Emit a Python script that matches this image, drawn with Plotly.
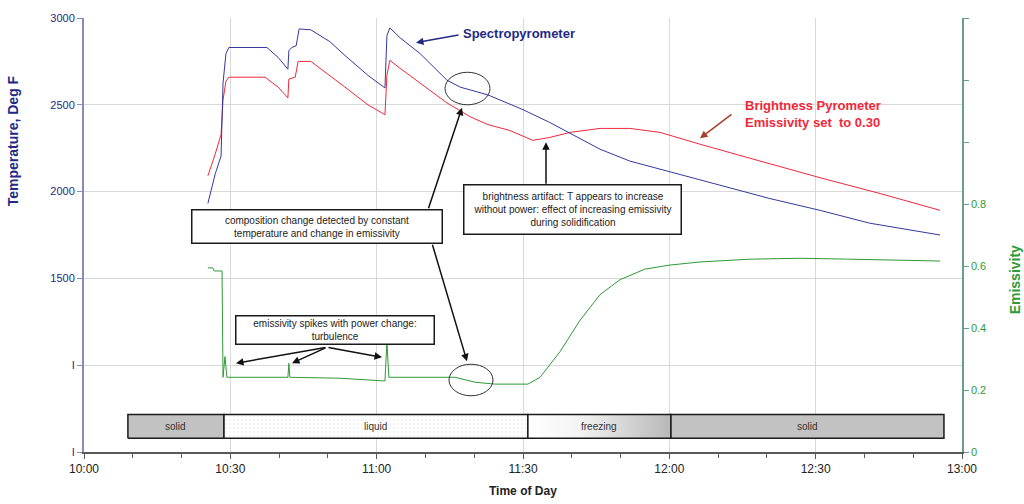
import pandas as pd
import plotly.graph_objects as go

DAY = "2000-01-01 "

# ---------------- data ----------------
spec_time = ["10:25:24", "10:26:54", "10:28:06", "10:28:30", "10:29:06", "10:29:42", "10:37:30",
             "10:39:48", "10:41:48", "10:42:00", "10:42:36", "10:43:30", "10:44:06", "10:46:30",
             "10:50:24", "10:53:30", "10:58:12", "11:01:42", "11:02:06", "11:02:42", "11:04:48",
             "11:08:54", "11:14:24", "11:17:06", "11:22:48", "11:30:00", "11:35:30", "11:39:36",
             "11:45:48", "11:51:54", "12:00:06", "12:10:24", "12:20:36", "12:30:54", "12:41:06",
             "12:55:30"]
spec_temp = [1932, 2102, 2205, 2625, 2795, 2830, 2830,
             2773, 2705, 2812, 2830, 2840, 2937, 2932,
             2864, 2784, 2670, 2597, 2898, 2943, 2886,
             2795, 2642, 2602, 2557, 2472, 2398, 2335,
             2244, 2176, 2114, 2034, 1960, 1892, 1818,
             1750]

bright_time = ["10:25:24", "10:26:54", "10:28:06", "10:28:30", "10:29:06", "10:29:42", "10:37:06",
               "10:39:48", "10:41:48", "10:42:00", "10:43:18", "10:43:54", "10:46:30", "10:50:24",
               "10:53:30", "10:58:12", "11:01:42", "11:02:06", "11:02:42", "11:04:48", "11:08:54",
               "11:14:24", "11:19:06", "11:22:48", "11:27:18", "11:32:00", "11:35:30", "11:39:36",
               "11:45:48", "11:51:54", "11:58:06", "12:06:18", "12:18:36", "12:30:54", "12:43:12",
               "12:55:30"]
bright_temp = [2091, 2216, 2330, 2528, 2636, 2659, 2659,
               2602, 2540, 2648, 2659, 2750, 2750, 2670,
               2602, 2500, 2443, 2670, 2756, 2710, 2625,
               2511, 2432, 2386, 2352, 2295, 2312, 2341,
               2364, 2364, 2341, 2273, 2176, 2080, 1989,
               1892]

emis_time = ["10:25:24", "10:26:24", "10:26:42", "10:28:18", "10:28:30", "10:28:54", "10:29:18",
             "10:41:48", "10:42:00", "10:42:12", "10:52:30", "11:01:42", "11:02:06", "11:02:30",
             "11:16:06", "11:20:12", "11:24:18", "11:31:00", "11:33:30", "11:37:36", "11:41:42",
             "11:45:48", "11:49:54", "11:55:00", "12:00:06", "12:06:18", "12:16:30", "12:26:48",
             "12:37:00", "12:47:18", "12:55:30"]
emis_value = [0.594, 0.594, 0.584, 0.584, 0.241, 0.308, 0.241,
              0.241, 0.286, 0.241, 0.238, 0.229, 0.356, 0.241,
              0.241, 0.225, 0.219, 0.219, 0.241, 0.324, 0.425,
              0.508, 0.556, 0.590, 0.603, 0.613, 0.622, 0.625,
              0.622, 0.619, 0.616]

phase_names = ["solid", "liquid", "freezing", "solid"]
phase_start = ["10:09:00", "10:28:42", "11:31:00", "12:00:20"]
phase_end = ["10:28:42", "11:31:00", "12:00:20", "12:56:18"]

temp_ticks = [500, 1000, 1500, 2000, 2500, 3000]
temp_tick_labels = ["I", "I", "1500", "2000", "2500", "3000"]
emis_ticks = [0, 0.2, 0.4, 0.6, 0.8, 1.0, 1.2, 1.4]
emis_tick_labels = ["0", "0.2", "0.4", "0.6", "0.8", "", "", ""]

# ---------------- geometry helpers ----------------
W, H = 1024, 504
L, R, T, B = 84, 962, 12, 452


def px(x):
    return (x - L) / (R - L)


def py(y):
    return (B - y) / (B - T)


def ts(s):
    return pd.to_datetime([DAY + v for v in s]) if isinstance(s, list) else pd.to_datetime(DAY + s)


FONT = "Liberation Sans, Arial, sans-serif"
NAVY = "#222a84"
GREEN = "#2f9a36"
RED = "#f0283a"

fig = go.Figure()
ann = []

# phase bar (drawn on emissivity axis)
bar_lo, bar_hi = 0.044, 0.121
for name, s, e in zip(phase_names, phase_start, phase_end):
    x0, x1 = ts(s), ts(e)
    kw = dict(x=[x0, x1, x1, x0, x0], y=[bar_lo, bar_lo, bar_hi, bar_hi, bar_lo],
              mode="lines", fill="toself", line=dict(color="#1a1a1a", width=1.5),
              yaxis="y2", hoverinfo="skip", showlegend=False)
    if name == "liquid":
        kw["fillcolor"] = "white"
        kw["fillpattern"] = dict(shape=".", fgcolor="#d4d4d4", bgcolor="white", size=4, solidity=0.15)
    elif name == "freezing":
        kw["fillgradient"] = dict(type="horizontal",
                                  colorscale=[[0, "#ffffff"], [0.35, "#f4f4f4"], [1, "#b8b8b8"]])
    else:
        kw["fillcolor"] = "#c2c2c2"
    fig.add_trace(go.Scatter(**kw))
    ann.append(dict(x=x0 + (x1 - x0) / 2, y=(bar_lo + bar_hi) / 2, xref="x", yref="y2",
                    xanchor="center", yanchor="middle",
                    text=name, showarrow=False, font=dict(family=FONT, size=10, color="#333")))

fig.add_trace(go.Scatter(x=ts(emis_time), y=emis_value, mode="lines", yaxis="y2",
                         line=dict(color=GREEN, width=1), showlegend=False))
fig.add_trace(go.Scatter(x=ts(bright_time), y=bright_temp, mode="lines",
                         line=dict(color=RED, width=1), showlegend=False))
fig.add_trace(go.Scatter(x=ts(spec_time), y=spec_temp, mode="lines",
                         line=dict(color="#34399a", width=1), showlegend=False))


# ---------------- annotations ----------------
def text_at(x, y, text, size, color, bold=False, **kw):
    t = f"<b>{text}</b>" if bold else text
    ann.append(dict(x=px(x), y=py(y), xref="paper", yref="paper", text=t, showarrow=False,
                    xanchor="center", yanchor="middle",
                    font=dict(family=FONT, size=size, color=color), **kw))


def arrow(hx, hy, tx, ty, color="#111", width=1.5):
    ann.append(dict(x=px(hx), y=py(hy), xref="paper", yref="paper", text="", showarrow=True,
                    ax=tx - hx, ay=ty - hy, arrowhead=2, arrowsize=1, arrowwidth=width,
                    arrowcolor=color))


def box(x0, y0, x1, y1, text):
    bw, bp = 1.5, 2
    ann.append(dict(x=px((x0 + x1) / 2), y=py((y0 + y1) / 2), xref="paper", yref="paper",
                    xanchor="center", yanchor="middle",
                    text=text, showarrow=False, align="center", valign="middle",
                    width=x1 - x0 - 2 * (bw + bp), height=y1 - y0 - 2 * (bw + bp),
                    bgcolor="white", bordercolor="#1a1a1a", borderwidth=bw, borderpad=bp,
                    font=dict(family=FONT, size=10, color="#222")))


# axis titles
text_at(13, 137, "Temperature, Deg F", 14, NAVY, bold=True, textangle=-90)
text_at(1015, 278, "Emissivity", 14, GREEN, bold=True, textangle=-90)
text_at(523, 492, "Time of Day", 12, "#222", bold=True)

# series labels
text_at(519, 28, "Spectropyrometer", 13, NAVY, bold=True)
arrow(416, 37, 460, 29, color=NAVY)
text_at(813, 109, "Brightness Pyrometer<br>Emissivity set  to 0.30", 13, RED, bold=True, align="left")
arrow(700, 134, 733, 109, color="#a5402a")

# boxes with arrows
box(191, 206, 443, 241, "composition change detected by constant<br>temperature and change in emissivity")
arrow(462, 103, 428, 205)
arrow(467, 360, 432, 242)
box(463, 181, 682, 232,
    "brightness artifact: T appears to increase<br>without power: effect of increasing emissivity<br>during solidification")
arrow(546, 138, 546, 181)
box(235, 313, 435, 343, "emissivity spikes with power change:<br>turbulence")
arrow(236, 362, 327, 346)
arrow(292, 362, 327, 346)
arrow(382, 356, 327, 346)

shapes = [
    dict(type="circle", xref="paper", yref="paper", x0=px(445), x1=px(490), y0=py(67), y1=py(100),
         line=dict(color="#333", width=1)),
    dict(type="circle", xref="paper", yref="paper", x0=px(449), x1=px(493), y0=py(363), y1=py(395),
         line=dict(color="#333", width=1)),
]

fig.update_layout(
    width=W, height=H,
    margin=dict(l=L, r=W - R, t=T, b=H - B, pad=0),
    paper_bgcolor="white", plot_bgcolor="white",
    showlegend=False,
    shapes=shapes,
    xaxis=dict(
        type="date", range=[ts("10:00:00"), ts("13:00:00")],
        tickformat="%H:%M", dtick=30 * 60 * 1000, tick0=ts("10:00:00"),
        showgrid=True, gridcolor="#d9d9d9", gridwidth=1,
        showline=True, linecolor="#5a5a5a", linewidth=2,
        ticks="outside", ticklen=5, tickcolor="#5a5a5a",
        minor=dict(dtick=10 * 60 * 1000, ticks="outside", ticklen=4, tickcolor="#5a5a5a", showgrid=False),
        tickfont=dict(family=FONT, size=12, color="#222"),
        zeroline=False,
    ),
    yaxis=dict(
        range=[500, 3000], tickvals=temp_ticks, ticktext=temp_tick_labels,
        showgrid=True, gridcolor="#d9d9d9", gridwidth=1,
        showline=True, linecolor="#8a8abb", linewidth=2,
        ticks="outside", ticklen=5, tickcolor="#8a8abb",
        tickfont=dict(family=FONT, size=11, color=NAVY),
        zeroline=False,
    ),
    yaxis2=dict(
        range=[0, 1.4], tickvals=emis_ticks, ticktext=emis_tick_labels,
        overlaying="y", side="right", showgrid=False,
        showline=True, linecolor="#6a9e8c", linewidth=1.5,
        ticks="outside", ticklen=5, tickcolor="#6a9e8c",
        tickfont=dict(family=FONT, size=11, color=GREEN),
        zeroline=False,
    ),
)
fig.layout.annotations = ann

fig.write_html("out.html")
